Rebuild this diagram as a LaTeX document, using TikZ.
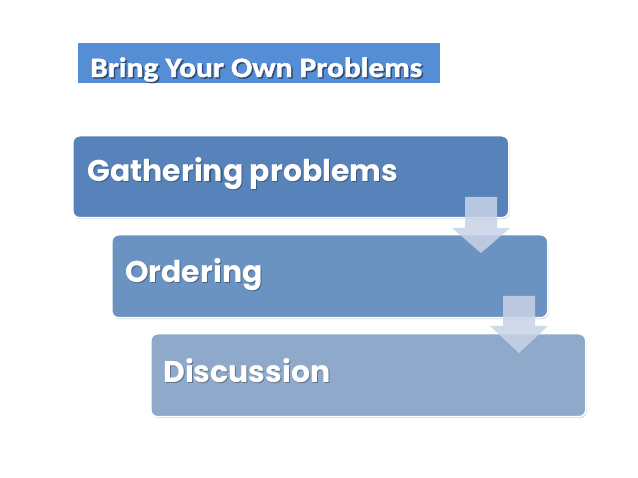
\documentclass[tikz,border=0pt]{standalone}
\usepackage{fontspec}
\setmainfont{Carlito}
\newfontfamily\titlefont[FakeBold=1.5,FakeStretch=1.12]{Carlito Bold}
\newfontfamily\boxfont{Poppins}
\usetikzlibrary{shadows}
\definecolor{titleblue}{HTML}{558ED5}
\definecolor{boxA}{HTML}{5883BA}
\definecolor{boxB}{HTML}{6B93C2}
\definecolor{boxC}{HTML}{8EA9C9}
\definecolor{arrowfill}{HTML}{C8D3E6}
\tikzset{
  stepbox/.style={draw=white, line width=1.5pt, rounded corners=7pt,
    drop shadow={shadow xshift=1pt, shadow yshift=-1.5pt, opacity=0.3}},
  boxlabel/.style={text=white, font=\boxfont\bfseries\fontsize{30}{32}\selectfont, anchor=base west, inner sep=0pt},
  shadowlabel/.style={text=black, opacity=0.3, font=\boxfont\bfseries\fontsize{30}{32}\selectfont, anchor=base west, inner sep=0pt},
  titlelabel/.style={anchor=base west, inner sep=0pt, font=\titlefont\fontsize{28}{30}\selectfont},
  flowarrow/.style={fill=arrowfill, fill opacity=0.85, draw=none}
}
\begin{document}
\begin{tikzpicture}[x=1pt,y=-1pt]
\useasboundingbox (0,0) rectangle (638,478);
\fill[white] (0,0) rectangle (638,478);
% title
\fill[titleblue] (78,43) rectangle (440,83);
\node[titlelabel, text=black, opacity=0.4] at (91.5,78.5) {Bring Your Own Problems};
\node (title) [titlelabel, text=white] at (90,77) {Bring Your Own Problems};
% boxes
\node (b1) [stepbox, fill=boxA, minimum width=436pt, minimum height=82pt, anchor=north west, inner sep=0pt] at (72,135) {};
\node (b2) [stepbox, fill=boxB, minimum width=436pt, minimum height=83pt, anchor=north west, inner sep=0pt] at (111,234) {};
\node (b3) [stepbox, fill=boxC, minimum width=435pt, minimum height=83pt, anchor=north west, inner sep=0pt] at (150,333) {};
% labels
\node[shadowlabel] at (88,183) {Gathering problems};
\node (t1) [boxlabel] at (87,182) {Gathering problems};
\node[shadowlabel] at (126,284) {Ordering};
\node (t2) [boxlabel] at (125,283) {Ordering};
\node[shadowlabel] at (164,384) {Discussion};
\node (t3) [boxlabel] at (163,383) {Discussion};
% arrows
\fill[flowarrow] (465,197) -- (497,197) -- (497,228) -- (510,228) -- (481,253) -- (452,228) -- (465,228) -- cycle;
\fill[flowarrow] (503,296) -- (535,296) -- (535,326) -- (548,326) -- (519,353) -- (490,326) -- (503,326) -- cycle;
\end{tikzpicture}
\end{document}
